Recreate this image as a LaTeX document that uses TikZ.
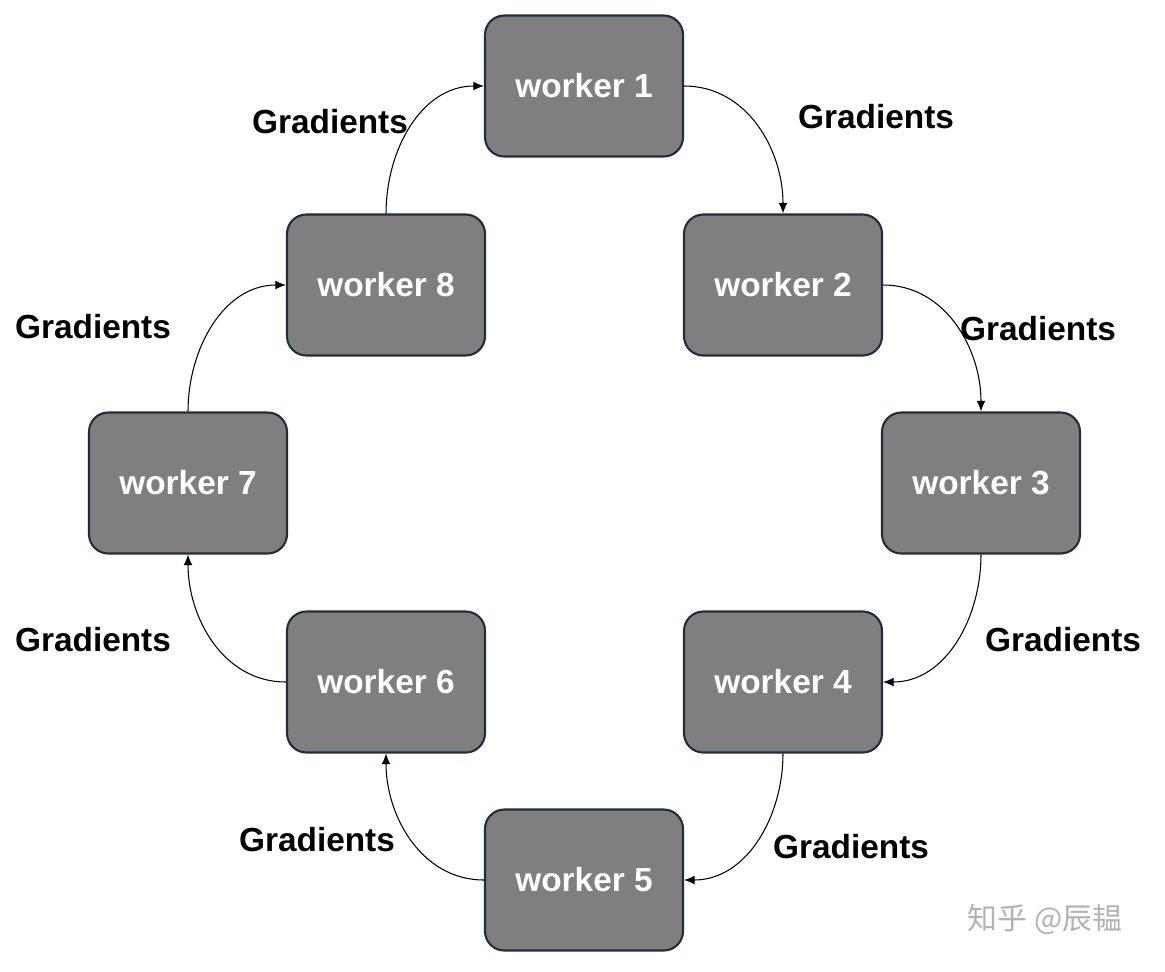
\documentclass[tikz,border=0pt]{standalone}
\usepackage{fontspec}
\setmainfont{Liberation Sans}
\newfontfamily\cjk{Noto Sans CJK SC}
\usetikzlibrary{arrows.meta}
\definecolor{boxfill}{HTML}{7F7F7F}
\definecolor{boxline}{HTML}{1F2D3D}
\begin{document}
\begin{tikzpicture}[x=0.02cm,y=-0.02cm,
  worker/.style={draw=boxline,line width=1.2pt,fill=boxfill,rounded corners=11pt,
    minimum width=198*0.02cm,minimum height=141*0.02cm,text=white,
    font=\fontsize{19}{22}\selectfont\bfseries},
  lbl/.style={font=\fontsize{19}{22}\selectfont\bfseries,text=black},
  conn/.style={-{Latex[length=6pt,width=5pt]},line width=0.6pt}]
\useasboundingbox (0,0) rectangle (1165,971);
\node[worker] (w1) at (584,86) {worker 1};
\node[worker] (w2) at (783,285) {worker 2};
\node[worker] (w3) at (981,483) {worker 3};
\node[worker] (w4) at (783,682) {worker 4};
\node[worker] (w5) at (584,880) {worker 5};
\node[worker] (w6) at (386,682) {worker 6};
\node[worker] (w7) at (188,483) {worker 7};
\node[worker] (w8) at (386,285) {worker 8};
\draw[conn] (w1.east) to[out=0,in=90] (w2.north);
\draw[conn] (w2.east) to[out=0,in=90] (w3.north);
\draw[conn] (w3.south) to[out=-90,in=0] (w4.east);
\draw[conn] (w4.south) to[out=-90,in=0] (w5.east);
\draw[conn] (w5.west) to[out=180,in=-90] (w6.south);
\draw[conn] (w6.west) to[out=180,in=-90] (w7.south);
\draw[conn] (w7.north) to[out=90,in=180] (w8.west);
\draw[conn] (w8.north) to[out=90,in=180] (w1.west);
\node[lbl] (g1) at (876,117) {Gradients};
\node[lbl] (g2) at (1038,329) {Gradients};
\node[lbl] (g3) at (1063,640) {Gradients};
\node[lbl] (g4) at (851,847) {Gradients};
\node[lbl] (g5) at (317,840) {Gradients};
\node[lbl] (g6) at (93,640) {Gradients};
\node[lbl] (g7) at (93,327) {Gradients};
\node[lbl] (g8) at (330,122) {Gradients};
\node[text=black!30,font=\cjk\fontsize{17}{20}\selectfont] (wm) at (1045,920) {知乎 @辰韫};
\end{tikzpicture}
\end{document}
